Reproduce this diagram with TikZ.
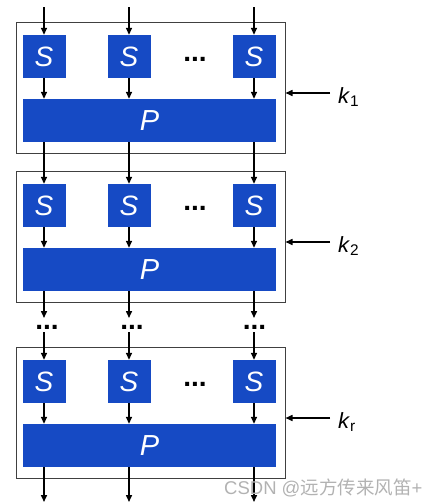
\documentclass[tikz,border=0pt]{standalone}
\usepackage{fontspec}
\setmainfont{Liberation Sans}
\newfontfamily\cjk{Noto Sans CJK SC}
\usetikzlibrary{arrows.meta}
\definecolor{sbblue}{RGB}{22,74,196}
\begin{document}
\begin{tikzpicture}[x=1pt,y=-1pt,
  sbox/.style={fill=sbblue, minimum width=43pt, minimum height=43pt, inner sep=0pt, text=white, font=\fontsize{28}{28}\selectfont\itshape},
  pbox/.style={fill=sbblue, minimum width=253pt, minimum height=43pt, inner sep=0pt, text=white, font=\fontsize{29}{29}\selectfont\itshape},
  roundframe/.style={draw=black!75, line width=1pt, minimum width=269pt, minimum height=131pt, inner sep=0pt},
  arr/.style={-{Triangle[length=7pt,width=6pt]}, line width=1.5pt},
  dotsym/.style={font=\fontsize{28}{28}\selectfont\bfseries, inner sep=0pt, anchor=base},
  keylab/.style={font=\fontsize{22}{22}\selectfont, anchor=base west, inner sep=0pt},
  wmark/.style={font=\fontsize{18.5}{18.5}\selectfont, text=black!30, anchor=base west, inner sep=0pt}
]
\useasboundingbox (0,0) rectangle (443,504);
\foreach \r/\T in {1/22,2/171,3/347}{
  \node[roundframe] (f\r) at (150.5,{\T+65.5}) {};
  \node[sbox] (s\r1) at (44,{\T+34.5}) {S};
  \node[sbox] (s\r2) at (129,{\T+34.5}) {S};
  \node[sbox] (s\r3) at (254,{\T+34.5}) {S};
  \node[dotsym] (m\r) at (195,{\T+39}) {...};
  \node[pbox] (p\r) at (149.5,{\T+98.5}) {P};
  \foreach \c in {1,2,3}{
    \draw[arr] (s\r\c.south) -- (s\r\c.south |- p\r.north);
  }
  \coordinate (kc\r) at (330,{\T+71});
  \draw[arr] (kc\r) -- (f\r.east |- kc\r);
}
\node[keylab] (k1) at (338,103) {\textit{k}\textsubscript{1}};
\node[keylab] (k2) at (338,252) {\textit{k}\textsubscript{2}};
\node[keylab] (k3) at (338,428) {\textit{k}\textsubscript{r}};
% inputs
\foreach \c in {1,2,3}{
  \coordinate (in\c) at (s1\c.north |- 0,7);
  \draw[arr] (in\c) -- (s1\c.north);
  \draw[arr] (s2\c.north |- p1.south) -- (s2\c.north);
  \coordinate (dd\c) at (s3\c.north |- 0,318);
  \draw[arr] (s3\c.north |- p2.south) -- (dd\c);
  \coordinate (du\c) at (s3\c.north |- 0,332);
  \draw[arr] (du\c) -- (s3\c.north);
  \coordinate (out\c) at (s3\c.south |- 0,502);
  \draw[arr] (s3\c.south |- p3.south) -- (out\c);
}
\node[dotsym] (d1) at (47,329) {...};
\node[dotsym] (d2) at (132,329) {...};
\node[dotsym] (d3) at (254.5,329) {...};
\node[wmark] (wm) at (224,494) {CSDN @{\cjk 远方传来风笛}+};
\end{tikzpicture}
\end{document}
